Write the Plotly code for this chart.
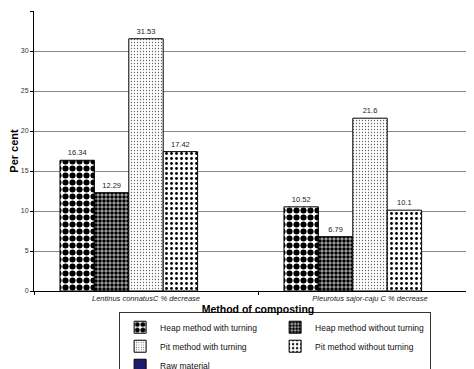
import plotly.graph_objects as go

categories = ["Lentinus connatusC % decrease", "Pleurotus sajor-caju C % decrease"]
series_names = ["Heap method with turning", "Heap method without turning",
                "Pit method with turning", "Pit method without turning", "Raw material"]
heap_with = [16.34, 10.52]
heap_without = [12.29, 6.79]
pit_with = [31.53, 21.6]
pit_without = [17.42, 10.1]
raw_material = [None, None]
y_ticks = [0, 5, 10, 15, 20, 25, 30, 35]

values = [heap_with, heap_without, pit_with, pit_without, raw_material]
patterns = [
    dict(shape=".", size=7, solidity=0.6, fgcolor="black", bgcolor="white", fillmode="replace"),
    dict(shape=".", size=4, solidity=0.6, fgcolor="black", bgcolor="#aaa", fillmode="replace"),
    dict(shape=".", size=3, solidity=0.15, fgcolor="#666", bgcolor="white", fillmode="replace"),
    dict(shape=".", size=5, solidity=0.25, fgcolor="black", bgcolor="white", fillmode="replace"),
    None,
]

fig = go.Figure()
for name, vals, pat in zip(series_names, values, patterns):
    kw = dict(
        x=categories, y=vals, name=name,
        marker=dict(color="white" if pat else "#1e1a6e",
                    line=dict(color="black", width=1)),
        text=[("" if v is None else f"{v:g}") for v in vals],
        textposition="outside",
        textfont=dict(family="Liberation Sans, Arial", size=7.5, color="#222"),
        cliponaxis=False,
    )
    if pat:
        kw["marker"]["pattern"] = pat
    fig.add_trace(go.Bar(**kw))

fig.update_layout(
    width=474, height=369,
    margin=dict(l=26, r=0, t=3, b=86, autoexpand=False),
    paper_bgcolor="white", plot_bgcolor="white",
    barmode="group", bargap=0.232, bargroupgap=0,
    font=dict(family="Liberation Sans, Arial", color="black"),
    showlegend=True,
    legend=dict(
        orientation="h", x=0.19, xanchor="left", y=-0.074, yanchor="top",
        entrywidth=110, entrywidthmode="pixels",
        bordercolor="#333", borderwidth=1, bgcolor="white",
        font=dict(size=8.5, color="#111"),
        tracegroupgap=0,
    ),
)
fig.update_xaxes(
    type="category",
    showline=True, linecolor="black", linewidth=1,
    ticks="outside", tickson="boundaries", ticklen=3, tickcolor="black",
    tickfont=dict(size=7.5, style="italic", color="#222"),
    title=dict(text="<b>Method of composting</b>", font=dict(size=10.5), standoff=0),
)
fig.update_yaxes(
    range=[0, 35], tickvals=y_ticks,
    showline=True, linecolor="black", linewidth=1,
    ticks="outside", ticklen=3, tickcolor="black",
    tickfont=dict(size=7, color="#333"),
    showgrid=True, gridcolor="#888", gridwidth=1,
    zeroline=False,
    title=dict(text="<b>Per cent</b>", font=dict(size=11), standoff=2),
)

fig.write_html("out.html")
